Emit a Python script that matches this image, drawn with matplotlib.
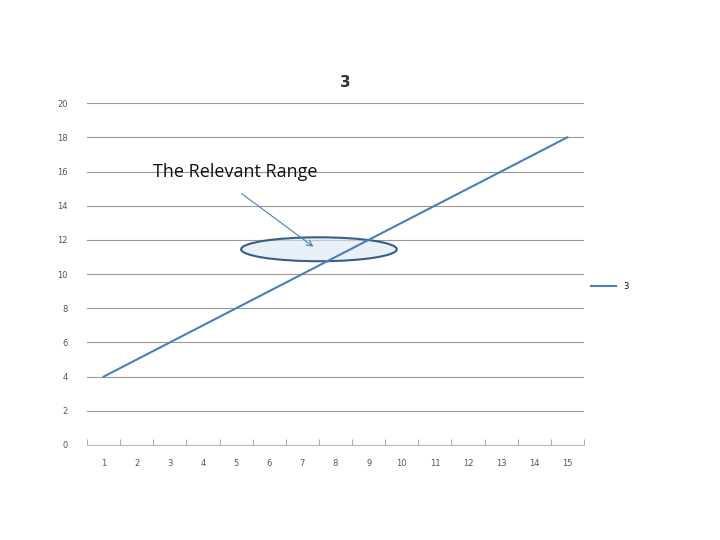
import matplotlib
matplotlib.use("Agg")
import matplotlib.pyplot as plt
from matplotlib.patches import Ellipse

categories = list(range(1, 16))
values = [4, 5, 6, 7, 8, 9, 10, 11, 12, 13, 14, 15, 16, 17, 18]
series_name = "3"
title = "3"
yticks = [0, 2, 4, 6, 8, 10, 12, 14, 16, 18, 20]

fig = plt.figure(figsize=(7.2, 5.4), dpi=100)
ax = fig.add_axes([0.121, 0.176, 0.690, 0.633])
ax.plot(categories, values, color="#4a7ebb", lw=1.5, label=series_name, zorder=4)
ax.set_xlim(0.5, 15.5)
ax.set_ylim(0, 20)
ax.set_yticks(yticks)
ax.set_xticks(categories)
ax.set_xticks([c + 0.5 for c in [0] + categories], minor=True)
ax.tick_params(axis="x", which="major", length=0, labelsize=6, colors="#555555", pad=10)
ax.tick_params(axis="x", which="minor", length=4, color="#999999", direction="in")
ax.tick_params(axis="y", length=0, labelsize=6, colors="#555555", pad=14)
ax.grid(axis="y", color="#999999", lw=0.8)
for s in ["top", "right", "left"]:
    ax.spines[s].set_visible(False)
ax.spines["bottom"].set_color("#bbbbbb")
fig.text(0.479, 0.848, title, fontsize=11, fontweight="bold", color="#333333",
         ha="center", va="center")

ell = Ellipse((7.5, 11.45), 4.7, 1.4, facecolor=(0.86, 0.90, 0.95, 0.6),
              edgecolor="#385d8a", lw=1.5, zorder=3)
ax.add_patch(ell)
ax.annotate("", xy=(7.4, 11.5), xytext=(5.1, 14.8),
            arrowprops=dict(arrowstyle="->", color="#4a7ebb", lw=0.8), zorder=5)
ax.text(2.5, 16.0, "The Relevant Range", fontsize=13, color="#111111", va="center",
        family=["Open Sans", "DejaVu Sans"], zorder=6)

ax.legend(loc="center left", bbox_to_anchor=(1.0, 0.465), frameon=False, fontsize=6,
          handlelength=3)
fig.savefig("out.png", dpi=100)
